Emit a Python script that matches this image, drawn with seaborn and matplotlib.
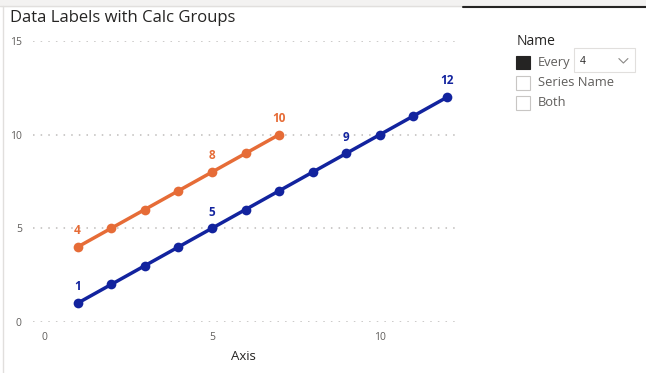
import matplotlib
matplotlib.use('Agg')
import matplotlib.pyplot as plt
import matplotlib.patches as mpatches
import seaborn as sns
import pandas as pd

# series values
axis_blue = [1, 2, 3, 4, 5, 6, 7, 8, 9, 10, 11, 12]
value_blue = [1, 2, 3, 4, 5, 6, 7, 8, 9, 10, 11, 12]
axis_orange = [1, 2, 3, 4, 5, 6, 7]
value_orange = [4, 5, 6, 7, 8, 9, 10]
label_every = 4
slicer_items = ['Every', 'Series Name', 'Both']
x_ticks = [0, 5, 10]
y_ticks = [0, 5, 10, 15]

blue = '#12239E'
orange = '#E66C37'
grey = '#605E5C'

df = pd.concat([
    pd.DataFrame({'Axis': axis_blue, 'Value': value_blue, 'Series': 'A'}),
    pd.DataFrame({'Axis': axis_orange, 'Value': value_orange, 'Series': 'B'}),
])

sns.set_style('white')
plt.rcParams['font.family'] = ['Open Sans', 'DejaVu Sans']

fig = plt.figure(figsize=(6.46, 3.73), dpi=100)
ax = fig.add_axes([0.051, 0.137, 0.653, 0.753])

sns.lineplot(data=df, x='Axis', y='Value', hue='Series', palette=[blue, orange],
             marker='o', markersize=7, markeredgewidth=0, linewidth=2.5,
             legend=False, ax=ax, clip_on=False)

# data labels: every 4th point plus the last one
for xs, ys, col in [(axis_blue, value_blue, blue), (axis_orange, value_orange, orange)]:
    for i, (xv, yv) in enumerate(zip(xs, ys)):
        if i % label_every == 0 or i == len(xs) - 1:
            ax.annotate(str(yv), (xv, yv), xytext=(0, 7), textcoords='offset points',
                        ha='center', va='bottom', color=col, fontsize=8.5, fontweight='bold')

ax.set_xlim(-0.33, 12.23)
ax.set_ylim(0, 15)
ax.set_xticks(x_ticks)
ax.set_yticks(y_ticks)
ax.tick_params(length=0, labelsize=7.5, colors=grey)
ax.tick_params(axis='x', pad=7)
ax.tick_params(axis='y', pad=8)
ax.yaxis.grid(True, linestyle=(0, (1, 4)), color='#BEBCBA', linewidth=1.1)
ax.set_axisbelow(True)
for s in ax.spines.values():
    s.set_visible(False)
ax.set_xlabel('Axis', fontsize=9.5, color='#252423', labelpad=5)
ax.set_ylabel('')

# title and frame of the visual
fig.text(0.016, 0.952, 'Data Labels with Calc Groups', fontsize=12, color='#252423', va='center')
fig.patches.append(mpatches.Rectangle((0, 0.985), 1, 0.015, transform=fig.transFigure,
                                      color='#F3F2F1', zorder=0))
fig.add_artist(plt.Line2D([0, 1], [0.984, 0.984], color='#E1DFDD', linewidth=1))
fig.add_artist(plt.Line2D([0.005, 0.005], [0, 0.984], color='#E1DFDD', linewidth=1))
fig.add_artist(plt.Line2D([0.717, 1], [0.98, 0.98], color='#252423', linewidth=1.5))

# slicer panel
fig.text(0.80, 0.889, 'Name', fontsize=10, color='#252423', va='center')
for i, item in enumerate(slicer_items):
    yc = 0.833 - i * 0.054
    checked = item == 'Every'
    fig.patches.append(mpatches.Rectangle((0.799, yc - 0.019), 0.021, 0.037,
                                          transform=fig.transFigure,
                                          facecolor='#252423' if checked else 'white',
                                          edgecolor='#252423' if checked else '#C8C6C4',
                                          linewidth=0.8))
    fig.text(0.833, yc, item, fontsize=9.3, color='#605E5C', va='center')
# dropdown for "Every"
fig.patches.append(mpatches.Rectangle((0.888, 0.806), 0.095, 0.064, transform=fig.transFigure,
                                      facecolor='white', edgecolor='#E1DFDD', linewidth=0.8))
fig.text(0.898, 0.836, str(label_every), fontsize=7.5, color='#252423', va='center')
fig.add_artist(plt.Line2D([0.958, 0.965, 0.972], [0.843, 0.831, 0.843], color='#8A8886', linewidth=0.8))

fig.savefig('out.png', dpi=100)
